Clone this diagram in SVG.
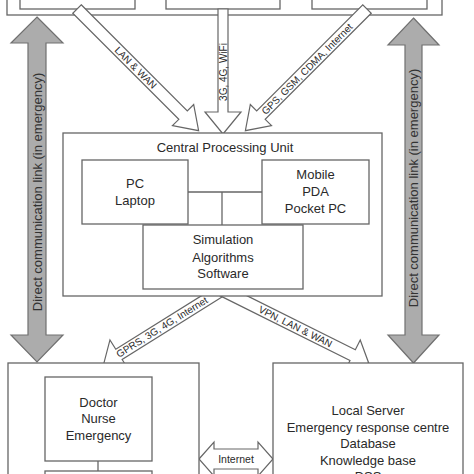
<svg xmlns="http://www.w3.org/2000/svg" width="474" height="474" viewBox="0 0 474 474">
<style>
.box{fill:#fff;stroke:#666;stroke-width:1.3}
.ln{fill:none;stroke:#666;stroke-width:1.3}
.arr{fill:#fff;stroke:#666;stroke-width:1.2;stroke-linejoin:miter}
.garr{fill:#acacac;stroke:#707070;stroke-width:1.2}
text{font-family:"Liberation Sans",Arial,sans-serif;fill:#2a2a2a}
.t13{font-size:13px;text-anchor:middle}
.t10{font-size:10px;text-anchor:middle}
.tg{font-size:13px;text-anchor:middle;fill:#333}
</style>
<rect width="474" height="474" fill="#fff"/>

<g id="top-node">
<rect class="box" x="7" y="-5" width="435" height="20"/>
<rect class="box" x="20" y="-5" width="115" height="14"/>
<rect class="box" x="166" y="-5" width="114" height="14"/>
<rect class="box" x="312" y="-5" width="115" height="14"/>
</g>

<g id="connectors">
<g id="link-left">
<polygon class="garr" points="37,17 63,43 46,43 46,335 63,335 37,362 11,335 28,335 28,43 11,43"/>
<text class="tg" transform="translate(37,192) rotate(-90)" x="0" y="4.5">Direct communication link (in emergency)</text>
</g>
<g id="link-right">
<polygon class="garr" points="413.5,18 439,45 422,45 422,335 439,335 413.5,363 388,335 405,335 405,45 388,45"/>
<text class="tg" transform="translate(413.5,188) rotate(-90)" x="0" y="4.5">Direct communication link (in emergency)</text>
</g>
<g id="lan-wan" transform="translate(77,9) rotate(45)">
<polygon class="arr" points="0,-6 150,-6 150,-15 172,0 150,15 150,6 0,6"/>
<text class="t10" x="83" y="3.5">LAN &amp; WAN</text>
</g>
<g id="wifi">
<polygon class="arr" points="218,9 228,9 228,112 241,112 223,134 205,112 218,112"/>
<text class="t10" transform="translate(223,72) rotate(-90)" x="0" y="3.5">3G, 4G, WiFi</text>
</g>
<g id="gps">
<polygon class="arr" transform="translate(367,9) rotate(135)" points="0,-6 150,-6 150,-15 172,0 150,15 150,6 0,6"/>
<text class="t10" transform="translate(307,69) rotate(-45)" x="0" y="3.5">GPS, GSM, CDMA, Internet</text>
</g>
<g id="gprs">
<polygon class="arr" transform="translate(222,290) rotate(148)" points="0,-6 121.5,-6 121.5,-17 139.5,0 121.5,17 121.5,6 0,6"/>
<text class="t10" transform="translate(162,327) rotate(-32)" x="0" y="3.5">GPRS, 3G, 4G, Internet</text>
</g>
<g id="vpn" transform="translate(222,290) rotate(26.5)">
<polygon class="arr" points="0,-6 146,-6 146,-17 164,0 146,17 146,6 0,6"/>
<text class="t10" x="82" y="3.5">VPN, LAN &amp; WAN</text>
</g>
<g id="internet">
<polygon class="arr" points="199,459 214,442 214,449 258,449 258,442 273,459 258,476 258,469 214,469 214,476"/>
<text style="font-size:10.5px;text-anchor:middle" x="236" y="462.5">Internet</text>
</g>
</g>

<g id="cpu">
<rect class="box" x="63" y="133" width="319" height="163"/>
<text class="t13" x="225" y="151.5">Central Processing Unit</text>
<line class="ln" x1="188" y1="192" x2="262" y2="192"/>
<line class="ln" x1="222" y1="192" x2="222" y2="225"/>
</g>
<g id="pc">
<rect class="box" x="82" y="160" width="106" height="64"/>
<text class="t13" x="135" y="187.5">PC</text>
<text class="t13" x="135" y="204.5">Laptop</text>
</g>
<g id="mobile">
<rect class="box" x="262" y="160" width="107" height="64"/>
<text class="t13" x="315.5" y="178.5">Mobile</text>
<text class="t13" x="315.5" y="195.5">PDA</text>
<text class="t13" x="315.5" y="212.5">Pocket PC</text>
</g>
<g id="simulation">
<rect class="box" x="143" y="225" width="160" height="64"/>
<text class="t13" x="223" y="243.5">Simulation</text>
<text class="t13" x="223" y="261.5">Algorithms</text>
<text class="t13" x="223" y="277.5">Software</text>
</g>

<g id="users">
<rect class="box" x="8" y="363" width="191" height="130"/>
<rect class="box" x="45" y="377" width="107" height="84"/>
<text class="t13" x="98.5" y="406.5">Doctor</text>
<text class="t13" x="98.5" y="422.5">Nurse</text>
<text class="t13" x="98.5" y="439.5">Emergency</text>
<line class="ln" x1="98" y1="461" x2="98" y2="471"/>
<rect class="box" x="45" y="471" width="107" height="20"/>
</g>

<g id="server">
<rect class="box" x="273" y="363" width="190" height="130"/>
<text class="t13" x="368" y="414.5">Local Server</text>
<text class="t13" x="368" y="431.5">Emergency response centre</text>
<text class="t13" x="368" y="447.5">Database</text>
<text class="t13" x="368" y="464.5">Knowledge base</text>
<text class="t13" x="368" y="481">DSS</text>
</g>
</svg>
